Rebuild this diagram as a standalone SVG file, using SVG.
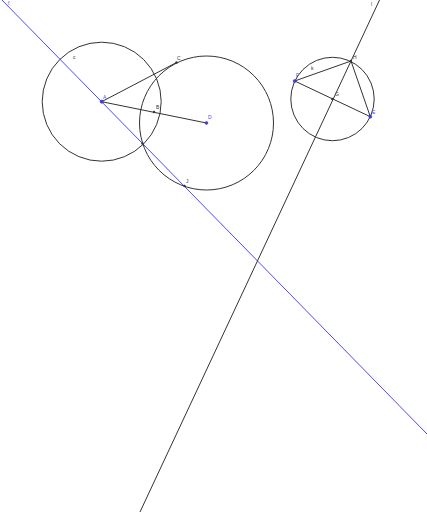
<svg xmlns="http://www.w3.org/2000/svg" width="427" height="512" viewBox="0 0 427 512">
<style>
.c{fill:none;stroke:#333;stroke-width:1}
.s{stroke:#333;stroke-width:1}
.b{stroke:#4a4aff;stroke-width:1}
.pb{fill:#4040ff;stroke:#2020a0;stroke-width:0.5}
.pk{fill:#333}
.t{font-family:"Liberation Sans",Arial,sans-serif;font-size:5px;fill:#333}
.tb{font-family:"Liberation Sans",Arial,sans-serif;font-size:5px;fill:#4a4aff}
</style>
<rect width="427" height="512" fill="#fff"/>
<g id="connectors">
<line class="b" x1="0" y1="-2" x2="427" y2="434"/>
<line class="s" x1="380" y1="-1" x2="140" y2="512"/>
<line class="s" x1="101.7" y1="101.7" x2="176.5" y2="62.5"/>
<line class="s" x1="101.7" y1="101.7" x2="206.5" y2="123"/>
<line class="s" x1="294.7" y1="81" x2="351" y2="61"/>
<line class="s" x1="294.7" y1="81" x2="370.3" y2="116.7"/>
<line class="s" x1="351" y1="61" x2="370.3" y2="116.7"/>
</g>
<g id="circle-c"><circle class="c" cx="101.7" cy="101.7" r="59.5"/><text class="t" x="73" y="59">c</text></g>
<g id="circle-d"><circle class="c" cx="206.5" cy="123" r="67"/></g>
<g id="circle-g"><circle class="c" cx="332.5" cy="99" r="41.7"/></g>
<g id="label-f"><text class="tb" x="8" y="5">f</text></g>
<g id="label-l"><text class="t" x="371" y="6">l</text></g>
<g id="label-k"><text class="t" x="311" y="70">k</text></g>
<g id="A"><circle class="pb" cx="101.7" cy="101.7" r="1.6"/><text class="tb" x="103" y="99">A</text></g>
<g id="C"><circle class="pk" cx="176.5" cy="62.5" r="1.2"/><text class="t" x="177" y="60">C</text></g>
<g id="B"><circle class="pk" cx="154" cy="112" r="1.2"/><text class="t" x="156" y="109">B</text></g>
<g id="D"><circle class="pb" cx="206.5" cy="123" r="1.4"/><text class="tb" x="208" y="119">D</text></g>
<g id="I"><circle class="pk" cx="142.5" cy="143.5" r="1.2"/></g>
<g id="J"><circle class="pk" cx="184.5" cy="186" r="1.2"/><text class="t" x="186" y="183">J</text></g>
<g id="F"><circle class="pb" cx="294.7" cy="81" r="1.5"/><text class="tb" x="296" y="77">F</text></g>
<g id="H"><circle class="pk" cx="351" cy="61" r="1.2"/><text class="t" x="353" y="59">H</text></g>
<g id="G"><circle class="pk" cx="332.3" cy="99" r="1.2"/><text class="t" x="335" y="96">G</text></g>
<g id="E"><circle class="pb" cx="370.3" cy="116.7" r="1.5"/><text class="tb" x="372" y="114">E</text></g>
</svg>
